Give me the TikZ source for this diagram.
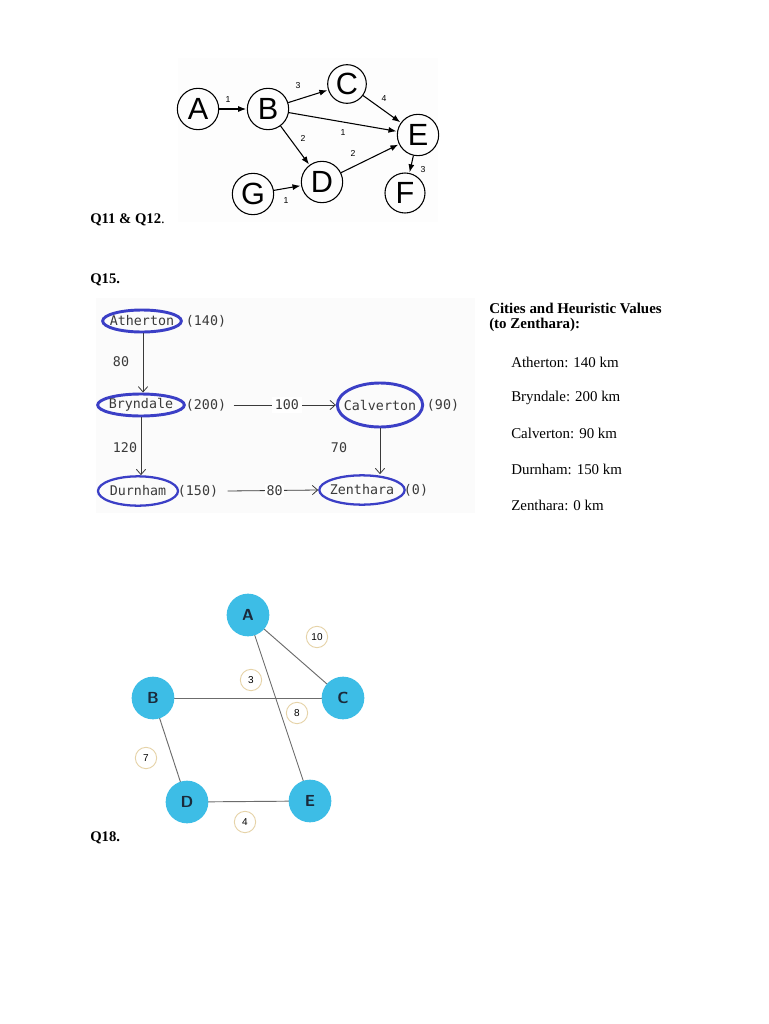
\documentclass[tikz,border=0pt]{standalone}
\usepackage{fontspec}
\setmainfont{Liberation Serif}
\newfontfamily\arialf{Liberation Sans}
\newfontfamily\monof{DejaVu Sans Mono}
\usetikzlibrary{shapes.geometric,arrows.meta}
\definecolor{ringblue}{HTML}{3B3FC6}
\definecolor{nodecyan}{HTML}{3DBDE6}
\definecolor{navy}{HTML}{1B2A3A}
\definecolor{tanring}{HTML}{E6D3A8}
\definecolor{monogray}{HTML}{3A3A3A}
\newcommand{\zb}[1]{\makebox[0pt][c]{#1}}
\begin{document}
\begin{tikzpicture}[x=0.75pt,y=-0.75pt,
  gonenode/.style={circle,draw=black,line width=0.8pt,minimum size=31pt,inner sep=0pt,font=\arialf\fontsize{23}{23}\selectfont},
  gonelab/.style={font=\arialf\fontsize{6.5}{7}\selectfont,inner sep=1pt},
  goneedge/.style={-{Latex[length=6pt,width=4.5pt]},line width=0.8pt,shorten >=0.5pt},
  city/.style={ellipse,draw=ringblue,line width=2.2pt,inner sep=0pt,font=\monof\fontsize{10}{10}\selectfont,text=monogray},
  hval/.style={font=\monof\fontsize{10}{10}\selectfont,text=monogray,inner sep=1pt},
  twoedge/.style={-{Straight Barb[length=4pt,width=7pt]},line width=0.6pt,draw=monogray},
  twolab/.style={font=\monof\fontsize{10}{10}\selectfont,text=monogray,fill=white,inner sep=2pt},
  cnode/.style={circle,fill=nodecyan,minimum size=32pt,inner sep=0pt,font=\sffamily\bfseries\fontsize{12}{12}\selectfont,text=navy},
  clab/.style={circle,draw=tanring,fill=white,line width=0.7pt,minimum size=16pt,inner sep=0pt,font=\arialf\fontsize{7.5}{8}\selectfont},
  cedge/.style={draw=gray!85!black,line width=0.7pt},
  qtext/.style={anchor=west,inner sep=0pt,font=\fontsize{11}{13}\selectfont},
  listtext/.style={anchor=west,inner sep=0pt,font=\fontsize{11.2}{13}\selectfont}]
\useasboundingbox (0,0) rectangle (768,1024);
\fill[white] (0,0) rectangle (768,1024);
% ---------- Graph 1 ----------
\fill[gray!1.5] (178,58) rectangle (438,222);
\node[gonenode] (A) at (198,109) {A};
\node[gonenode] (B) at (268,109) {B};
\node[gonenode,minimum size=29pt] (C) at (347,84) {C};
\node[gonenode] (E) at (418,135) {E};
\node[gonenode] (D) at (322,182) {D};
\node[gonenode] (G) at (253,194) {G};
\node[gonenode,minimum size=30pt] (F) at (405,193) {F};
\draw[goneedge] (A) -- (B);
\draw[goneedge] (B) -- (C);
\draw[goneedge] (C) -- (E);
\draw[goneedge] (B) -- (E);
\draw[goneedge] (B) -- (D);
\draw[goneedge] (D) -- (E);
\draw[goneedge] (E) -- (F);
\draw[goneedge] (G) -- (D);
\node[gonelab] (l1) at (228,100) {1};
\node[gonelab] (l2) at (298,86) {3};
\node[gonelab] (l3) at (384,99) {4};
\node[gonelab] (l4) at (343,133) {1};
\node[gonelab] (l5) at (303,138) {2};
\node[gonelab] (l6) at (353,153) {2};
\node[gonelab] (l7) at (423,170) {3};
\node[gonelab] (l8) at (286,201) {1};
\node[qtext] (q11) at (90,220) {\textbf{Q11 \& Q12}.};
\node[qtext] (q15) at (90,280) {\textbf{Q15.}};
% ---------- Graph 2 ----------
\fill[gray!3] (96,298) rectangle (475,513);
\node[city,minimum width=59pt,minimum height=16.5pt] (Ath) at (142,321) {\zb{Atherton}};
\node[city,minimum width=65pt,minimum height=16.5pt] (Bry) at (141,405) {\zb{Bryndale}};
\node[city,minimum width=64pt,minimum height=33pt] (Cal) at (380,405) {\zb{Calverton}};
\node[city,minimum width=60pt,minimum height=22pt,line width=1.7pt] (Dur) at (138,491) {\zb{Durnham}};
\node[city,minimum width=64pt,minimum height=22pt,line width=1.7pt] (Zen) at (362,490) {\zb{Zenthara}};
\node[hval] (hA) at (206,321) {(140)};
\node[hval] (hB) at (206,405) {(200)};
\node[hval] (hC) at (443,405) {(90)};
\node[hval] (hD) at (198,491) {(150)};
\node[hval] (hZ) at (416,490) {(0)};
\draw[twoedge] (Ath.south) ++(1,0) coordinate (as) -- (Bry.north -| as);
\draw[twoedge] (Bry) -- (Dur.north -| Bry);
\draw[twoedge] (Cal) -- (Zen.north -| Cal);
\draw[twoedge] (hB.east) ++(6,0) coordinate (bs) -- (Cal.west) node[twolab,pos=0.52] (w100) {100};
\draw[twoedge] (hD.east) ++(8,0) coordinate (ds) -- (Zen.west) node[twolab,pos=0.52,inner sep=1pt] (w80b) {80};
\node[hval] (w80a) at (121,362) {80};
\node[hval] (w120) at (125,448) {120};
\node[hval] (w70) at (339,448) {70};
% ---------- Heuristic list ----------
\node[qtext,font=\bfseries\fontsize{11.2}{13}\selectfont] (h1) at (489,308) {Cities and Heuristic Values};
\node[qtext,font=\bfseries\fontsize{11.2}{13}\selectfont] (h2) at (489,325) {(to Zenthara):};
\node[listtext] (i1) at (511,362) {Atherton: 140 km};
\node[listtext] (i2) at (511,398) {Bryndale: 200 km};
\node[listtext] (i3) at (511,433) {Calverton: 90 km};
\node[listtext] (i4) at (511,469) {Durnham: 150 km};
\node[listtext] (i5) at (511,505) {Zenthara: 0 km};
% ---------- Graph 3 ----------
\coordinate (pA) at (248,615);
\coordinate (pB) at (153,698);
\coordinate (pC) at (343,698);
\coordinate (pD) at (187,802);
\coordinate (pE) at (310,801);
\draw[cedge] (pA) -- (pC);
\draw[cedge] (pA) -- (pE);
\draw[cedge] (pB) -- (pC);
\draw[cedge] (pB) -- (pD);
\draw[cedge] (pD) -- (pE);
\node[cnode] (cA) at (pA) {A};
\node[cnode] (cB) at (pB) {B};
\node[cnode] (cC) at (pC) {C};
\node[cnode] (cD) at (pD) {D};
\node[cnode] (cE) at (pE) {E};
\node[clab] (w10) at (317,637) {10};
\node[clab] (w3) at (251,680) {3};
\node[clab] (w8) at (297,713) {8};
\node[clab] (w7) at (146,758) {7};
\node[clab] (w4) at (245,822) {4};
\node[qtext] (q18) at (90,838) {\textbf{Q18.}};
\end{tikzpicture}
\end{document}
